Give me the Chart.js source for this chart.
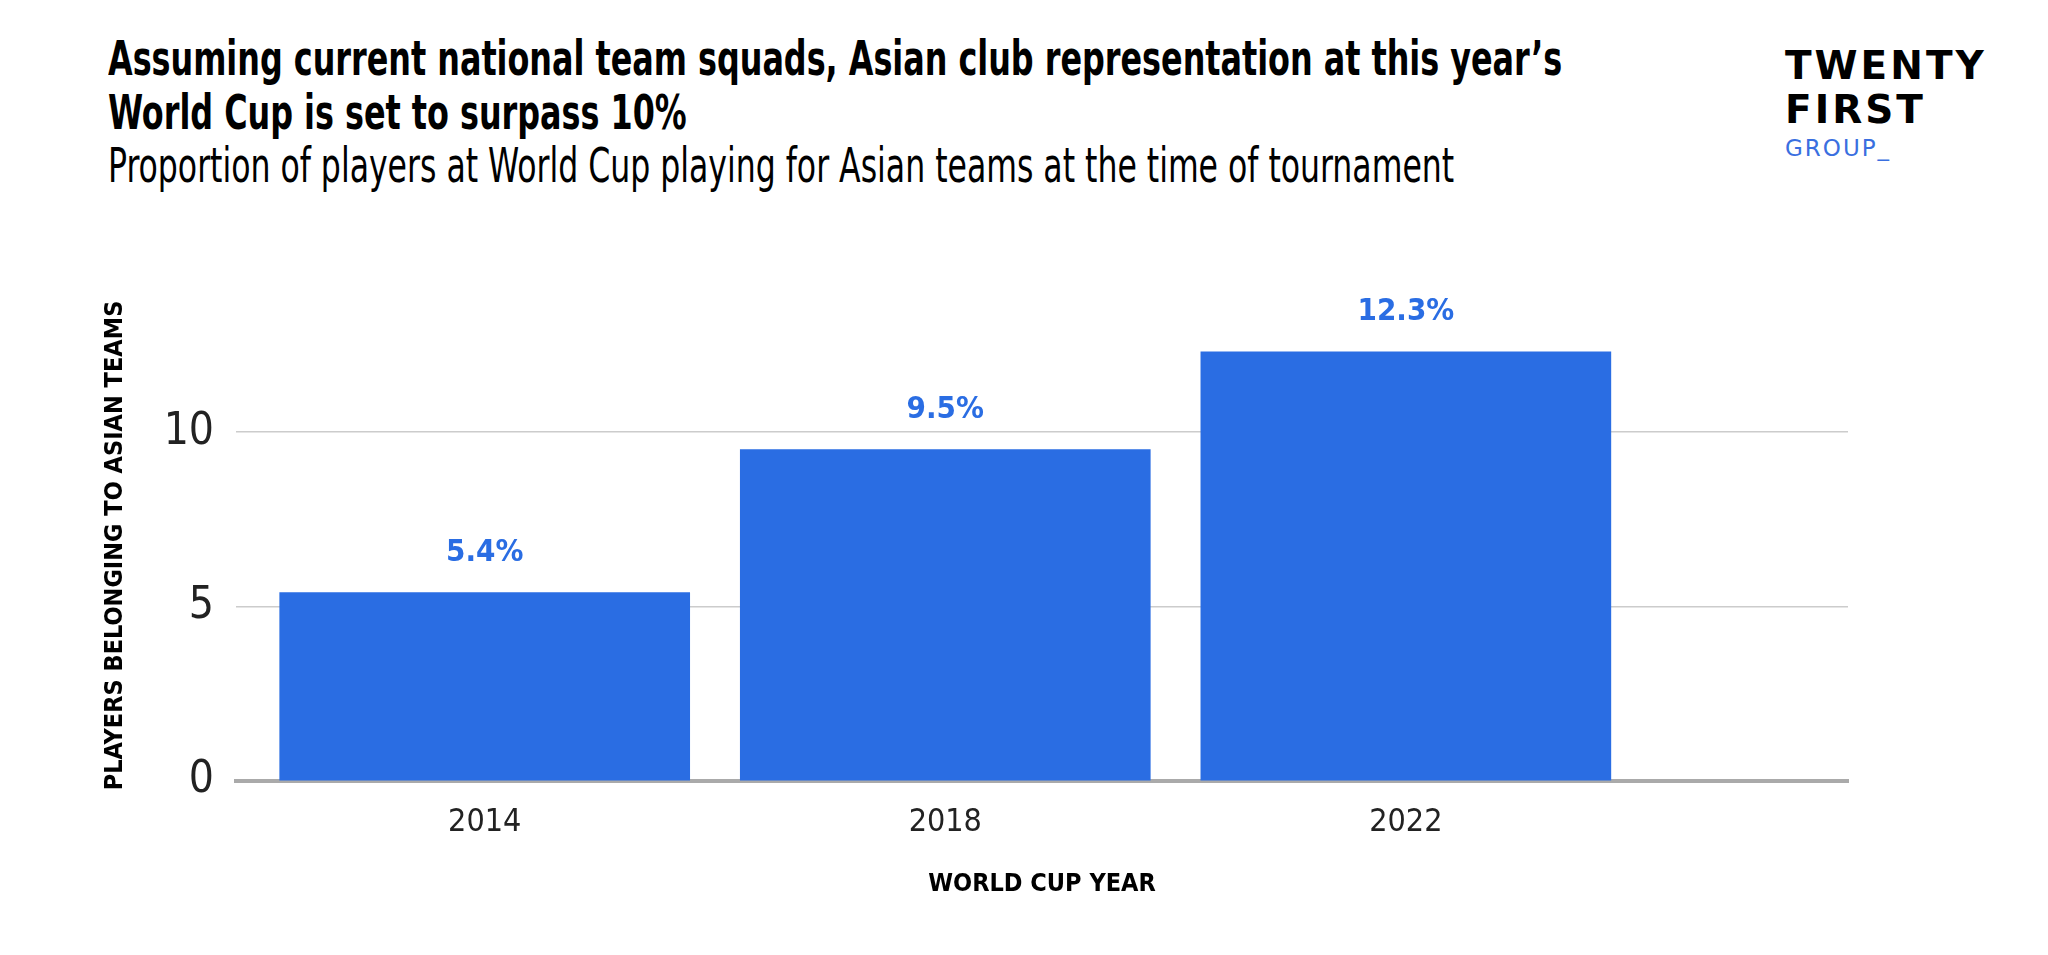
<!DOCTYPE html>
<html><head><meta charset="utf-8">
<script src="https://cdn.jsdelivr.net/npm/chart.js@4"></script>
<style>
html,body{margin:0;padding:0;background:#fff;width:2048px;height:955px;overflow:hidden;font-family:"DejaVu Sans Condensed",sans-serif;}
#wrap{position:absolute;left:0;top:0;width:2048px;height:955px;}
.t{position:absolute;left:108px;white-space:nowrap;color:#000;transform-origin:0 0;}
#t1{top:31px;font-size:48px;font-weight:bold;line-height:54px;transform:scaleX(0.737);}
#sub{top:137px;font-size:48px;transform:scaleX(0.73);}
#logo{position:absolute;left:1785px;top:44px;font-family:"DejaVu Sans",sans-serif;font-weight:bold;font-size:39px;line-height:44px;letter-spacing:3px;color:#000;}
#logo .g{font-size:23px;font-weight:normal;color:#3a6fe0;letter-spacing:2px;line-height:32px;}
</style></head><body>
<div class="t" id="t1">Assuming current national team squads, Asian club representation at this year’s<br>World Cup is set to surpass 10%</div>
<div class="t" id="sub">Proportion of players at World Cup playing for Asian teams at the time of tournament</div>
<div id="logo">TWENTY<br>FIRST<div class="g">GROUP_</div></div>
<div id="wrap"><canvas id="c" width="2048" height="955"></canvas></div>
<script>
const categories = ["2014", "2018", "2022"];
const values = [5.4, 9.5, 12.3];
const valueLabels = ["5.4%", "9.5%", "12.3%"];
const yTicks = [0, 5, 10];
const FF = '"DejaVu Sans Condensed",sans-serif';
const blue = '#2a6de3';
const labelPlugin = {
  id:'lbl',
  afterDatasetsDraw(chart){
    const ctx=chart.ctx; const meta=chart.getDatasetMeta(0);
    ctx.save(); ctx.fillStyle=blue; ctx.font='bold 31px '+FF; ctx.textAlign='center'; ctx.textBaseline='bottom';
    meta.data.forEach((b,i)=>ctx.fillText(valueLabels[i], b.x, b.y-24));
    ctx.restore();
  }
};
new Chart(document.getElementById('c'),{
  type:'bar',
  data:{datasets:[{data:values.map((v,i)=>({x:i,y:v})),backgroundColor:blue,barThickness:410}]},
  options:{
    responsive:false,animation:false,
    layout:{padding:{left:96,right:200,top:310,bottom:44}},
    plugins:{legend:{display:false},tooltip:{enabled:false}},
    scales:{
      x:{type:'linear',min:-0.54,max:2.96,offset:false,
        afterBuildTicks(s){s.ticks=categories.map((c,i)=>({value:i}));},
        afterFit(s){s.height=130;},
        ticks:{callback:(v)=>categories[v],font:{family:FF,size:32},color:'#222',padding:14,maxRotation:0},
        grid:{display:false},border:{display:true,color:'#aaaaaa',width:4},
        title:{display:true,text:'WORLD CUP YEAR',font:{family:FF,size:25,weight:'bold'},color:'#000',padding:{top:0,bottom:12}}},
      y:{min:0,max:13.5,
        afterBuildTicks(s){s.ticks=yTicks.map(v=>({value:v}));},
        afterFit(s){s.width=140;},
        ticks:{font:{family:FF,size:44},color:'#222',padding:22},
        grid:{color:'#cccccc',lineWidth:1.5,drawTicks:false},border:{display:false},
        title:{display:true,text:'PLAYERS BELONGING TO ASIAN TEAMS',font:{family:FF,size:25,weight:'bold'},color:'#000',padding:{top:4,bottom:0}}}
    }
  },
  plugins:[labelPlugin]
});
</script></body></html>
